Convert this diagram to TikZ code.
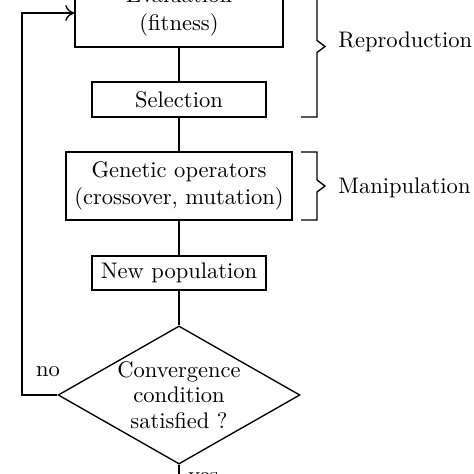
\documentclass[tikz,border=0pt]{standalone}
\usetikzlibrary{shapes.geometric,arrows.meta}
\begin{document}
\begin{tikzpicture}[x=0.444pt,y=-0.444pt,
  box/.style={draw,line width=0.6pt,rectangle,inner sep=0pt,align=center},
  decision/.style={draw,line width=0.6pt,diamond,aspect=1.754,inner sep=-4pt,align=center,minimum width=107.4pt,minimum height=61.3pt},
  lbl/.style={inner sep=0pt},
  conn/.style={line width=0.6pt},
  brk/.style={line width=0.6pt}]
\clip (0,0) rectangle (474,474);
\node[box,minimum width=92.4pt,minimum height=31.5pt] (eval) at (179,11.5) {Evaluation\\(fitness)};
\node[box,minimum width=77.3pt,minimum height=15.5pt] (sel) at (179,99.5) {Selection};
\node[box,minimum width=100.3pt,minimum height=30.2pt] (gen) at (179,186) {Genetic operators\\(crossover, mutation)};
\node[box,minimum width=77.3pt,minimum height=15.1pt] (newpop) at (179,273) {New population};
\node[decision] (conv) at (179,395) {Convergence\\[-0.8pt]condition\\[-0.8pt]satisfied ?};
\coordinate (loopx) at (22,0);
\coordinate (endpt) at (179,500);
\draw[conn] (eval) -- (sel);
\draw[conn] (sel) -- (gen);
\draw[conn] (gen) -- (newpop);
\draw[conn] (newpop) -- (conv);
\draw[conn] (conv.south) -- (endpt);
\draw[conn,-{To[length=4pt,width=7pt]}] (conv.west) -- (conv.west -| loopx) -- (loopx |- 0,13) -- (eval.west |- 0,13);
\node[lbl] (no) at (48,372) {no};
\node[lbl,anchor=west] (yes) at (188,480) {yes};
\draw[brk] (301,-24) -- (317,-24) -- (317,40.5) -- (325,46.5) -- (317,52.5) -- (317,117) -- (301,117);
\draw[brk] (301,152) -- (317,152) -- (317,180) -- (325,186) -- (317,192) -- (317,220) -- (301,220);
\node[lbl,anchor=west] (repro) at (338,42) {Reproduction};
\node[lbl,anchor=west] (manip) at (338,188) {Manipulation};
\end{tikzpicture}
\end{document}
